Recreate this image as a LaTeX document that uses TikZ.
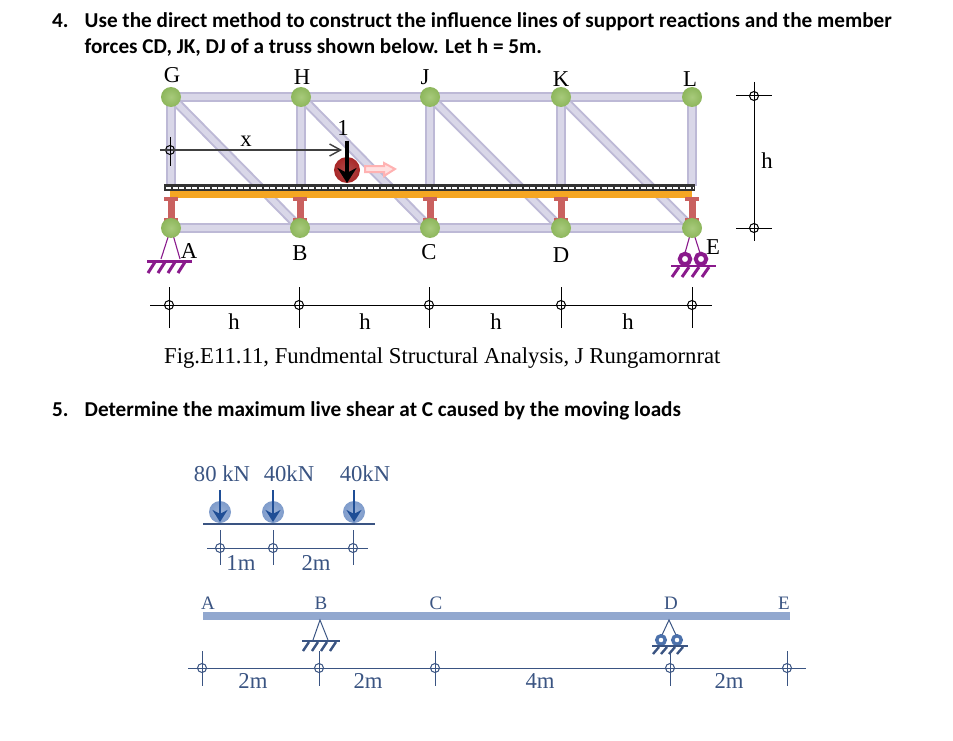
\documentclass[tikz,border=0pt]{standalone}
\usepackage{fontspec}
\setmainfont{Liberation Serif}
\newfontfamily\headfont{Carlito}
\usetikzlibrary{arrows.meta}
\definecolor{memberedge}{HTML}{BDB9D6}
\definecolor{memberfill}{HTML}{D9D7E8}
\definecolor{jointgreen}{HTML}{98C164}
\definecolor{jointdark}{HTML}{8DB65C}
\definecolor{supportpurple}{HTML}{8A1A8C}
\definecolor{hangerred}{HTML}{C9605F}
\definecolor{deckorange}{HTML}{F5A623}
\definecolor{bluetext}{HTML}{3A5482}
\definecolor{bluearrow}{HTML}{1F4E96}
\definecolor{blueball}{HTML}{7F9CCB}
\definecolor{bluebeam}{HTML}{92A8CF}
\tikzset{
    member/.style={draw=memberedge,double=memberfill,double distance=5.5pt,line width=2pt},
    joint/.style={circle,minimum size=20pt,inner sep=0pt,inner color=jointgreen!85!white,outer color=jointdark},
    lab/.style={font=\fontsize{22.7}{23}\selectfont,inner sep=0pt},
    bluelab/.style={font=\fontsize{22.7}{23}\selectfont,inner sep=0pt,text=bluetext},
    head/.style={font=\headfont\bfseries\fontsize{21.2}{24}\selectfont,inner sep=0pt,anchor=base west},
    tickmark/.style={circle,draw,line width=1pt,minimum size=9pt,inner sep=0pt},
    dimline/.style={line width=1pt},
    purpleroller/.style={circle,draw=supportpurple,line width=4pt,minimum size=10.5pt,inner sep=0pt},
    blueroller/.style={circle,draw=bluearrow!80,line width=3.4pt,minimum size=8.5pt,inner sep=0pt},
}
\begin{document}
\begin{tikzpicture}[x=1pt,y=-1pt]
    \useasboundingbox (0,0) rectangle (953,741);
    % headings
    \node[head] at (52,28) {4.};
    \node[head] at (84.5,28) {Use the direct method to construct the influence lines of support reactions and the member};
    \node[head] at (84.5,54) {forces CD, JK, DJ of a truss shown below. Let h = 5m.};
    \node[head] at (52,416) {5.};
    \node[head] at (84.5,416) {Determine the maximum live shear at C caused by the moving loads};
    % truss
    \foreach \name/\xx in {G/171,H/301,J/430,K/561,L/692}
        \coordinate (\name) at (\xx,97);
    \foreach \name/\xx in {A/171,B/300,C/430,D/561,E/692}
        \coordinate (\name) at (\xx,228);
    \coordinate (deckline) at (0,186);
    \foreach \from/\to in {G/H,H/J,J/K,K/L,A/B,B/C,C/D,D/E,G/B,H/C,J/D,K/E}
        \draw[member] (\from) -- (\to);
    % verticals stop at the deck
    \foreach \name in {G,H,J,K,L}
        \draw[member] (\name) -- (\name |- deckline);
    % deck
    \fill[deckorange] (170,191) rectangle (692,198);
    \fill[black!80] (164,184) rectangle (695,191);
    \draw[white,line width=2.6pt,dash pattern=on 5pt off 1.5pt] (166,187.8) -- (693,187.8);
    \foreach \name in {A,B,C,D,E} {
        \fill[hangerred] ([xshift=-3.5pt,yshift=29pt]\name) rectangle ([xshift=3.5pt,yshift=7pt]\name);
        \fill[hangerred] ([xshift=-7pt,yshift=31pt]\name) rectangle ([xshift=7pt,yshift=27pt]\name);
        \fill[hangerred] ([xshift=-7pt,yshift=10pt]\name) rectangle ([xshift=7pt,yshift=6pt]\name);
    }
    % supports
    \coordinate (Aleft) at (161,259);
    \coordinate (Aright) at (180,259);
    \draw[supportpurple,line width=1.1pt] (Aleft) -- (A) -- (Aright);
    \draw[supportpurple,line width=3pt] (147,261) -- (192,261);
    \foreach \xx in {155,165,175,185}
        \draw[supportpurple,line width=3pt] (\xx,262) -- (\xx-7,273);
    \coordinate (Eleft) at (685,253);
    \coordinate (Eright) at (700,253);
    \draw[supportpurple,line width=1.1pt] (Eleft) -- (E) -- (Eright);
    \node[purpleroller] at (685,259) {};
    \node[purpleroller] at (701,259) {};
    \draw[supportpurple,line width=2.2pt] (671,266) -- (716,266);
    \foreach \xx in {679,689,699,709}
        \draw[supportpurple,line width=3pt] (\xx,267) -- (\xx-7,277);
    % joints
    \foreach \name in {G,H,J,K,L,A,B,C,D,E}
        \node[joint] (j\name) at (\name) {};
    % truss labels
    \node[lab] at (172,75) {G};
    \node[lab] at (302,77) {H};
    \node[lab] at (425,77) {J};
    \node[lab] at (561,79) {K};
    \node[lab] at (690,79) {L};
    \node[lab] at (189,251) {A};
    \node[lab] at (300,253) {B};
    \node[lab] at (429,252) {C};
    \node[lab] at (561,255) {D};
    \node[lab] at (713,247) {E};
    % moving load
    \node[circle,minimum size=26pt,inner sep=0pt,inner color=red!55!black!70!white,outer color=red!60!black!85!white] (ball) at (347,170) {};
    \coordinate (loadtop) at (347,141);
    \draw[line width=3.4pt,-{Stealth[length=15pt,width=19pt]}] (loadtop) -- (347,183);
    \node[lab] at (343,128) {1};
    \draw[draw=red!30,fill=red!12,line width=2pt] (365,166) -- (384,166) -- (384,163) -- (395,169)
        -- (384,176) -- (384,172) -- (365,172) -- cycle;
    % x dimension
    \node[tickmark] (xtick) at (170,150) {};
    \coordinate (xleft) at (160,150);
    \coordinate (xright) at (342,150);
    \draw[line width=1.4pt,black!75,-{Straight Barb[length=11pt,width=12pt]}] (xleft) -- (xright);
    \draw[dimline] (170,137) -- (170,166);
    \node[lab] at (246,141) {x};
    % bottom dimension
    \coordinate (dimleft) at (150,305);
    \coordinate (dimright) at (712,305);
    \draw[dimline] (dimleft) -- (dimright);
    \foreach \xx in {169,299,429,561,692} {
        \node[tickmark] at (\xx,305) {};
        \draw[dimline] (\xx,287) -- (\xx,328);
    }
    \foreach \xx in {234,365,496,628}
        \node[lab] at (\xx,322) {h};
    % right dimension
    \coordinate (dimtop) at (754,82);
    \coordinate (dimbot) at (754,241);
    \draw[dimline] (dimtop) -- (dimbot);
    \foreach \yy in {96,228} {
        \node[tickmark] at (754,\yy) {};
        \draw[dimline] (736,\yy) -- (772,\yy);
    }
    \node[lab] at (767,161) {h};
    \node[lab,anchor=west] at (164,358) {Fig.E11.11, Fundmental Structural Analysis, J Rungamornrat};
    % moving loads
    \node[bluelab] at (222,474) {80 kN};
    \node[bluelab] at (289,474) {40kN};
    \node[bluelab] at (365,474) {40kN};
    \foreach \xx in {220,273,354} {
        \node[circle,minimum size=22pt,inner sep=0pt,inner color=blueball!80!white,outer color=blueball] at (\xx,512) {};
        \draw[bluearrow,line width=2.8pt,-{Stealth[length=12pt,width=15pt]}] (\xx,490) -- (\xx,522);
    }
    \coordinate (railleft) at (203,524);
    \coordinate (railright) at (375,524);
    \draw[bluetext,line width=1.2pt] (railleft) -- (railright);
    \coordinate (loadleft) at (207,548);
    \coordinate (loadright) at (368,548);
    \draw[bluetext,dimline] (loadleft) -- (loadright);
    \foreach \xx in {220,273,353} {
        \node[tickmark,draw=bluetext] at (\xx,548) {};
        \draw[bluetext,dimline] (\xx,530) -- (\xx,565);
    }
    \node[bluelab] at (241,563) {1m};
    \node[bluelab] at (316,563) {2m};
    % beam
    \coordinate (beamA) at (203,616);
    \coordinate (beamB) at (320,620);
    \coordinate (beamD) at (669,620);
    \coordinate (beamE) at (790,616);
    \draw[bluebeam,line width=7.5pt] (beamA) -- (beamE);
    \foreach \name/\xx in {A/208,B/321,C/436,D/671,E/784}
        \node[bluelab,font=\fontsize{19}{19}\selectfont] at (\xx,603) {\name};
    % beam supports
    \coordinate (Bleft) at (313,640);
    \coordinate (Bright) at (328,640);
    \draw[bluetext,line width=1pt] (Bleft) -- (beamB) -- (Bright);
    \draw[bluetext,line width=2.4pt] (302,641) -- (340,641);
    \foreach \xx in {309,318,327,336}
        \draw[bluetext,line width=2.4pt] (\xx,642) -- (\xx-6,651);
    \coordinate (Dleft) at (662,635);
    \coordinate (Dright) at (676,635);
    \draw[bluetext,line width=1pt] (Dleft) -- (beamD) -- (Dright);
    \node[blueroller] at (661,640) {};
    \node[blueroller] at (677,640) {};
    \draw[bluetext,line width=2pt] (652,646) -- (688,646);
    \foreach \xx in {659,667,675,683}
        \draw[bluetext,line width=2.4pt] (\xx,647) -- (\xx-6,654);
    % beam dimension
    \coordinate (spanleft) at (188,668);
    \coordinate (spanright) at (806,668);
    \draw[bluetext,dimline] (spanleft) -- (spanright);
    \foreach \xx in {202,319,435,670,787} {
        \node[tickmark,draw=bluetext] at (\xx,668) {};
        \draw[bluetext,dimline] (\xx,651) -- (\xx,686);
    }
    \foreach \xx/\txt in {253/2m,368/2m,540/4m,729/2m}
        \node[bluelab] at (\xx,681) {\txt};
\end{tikzpicture}
\end{document}
